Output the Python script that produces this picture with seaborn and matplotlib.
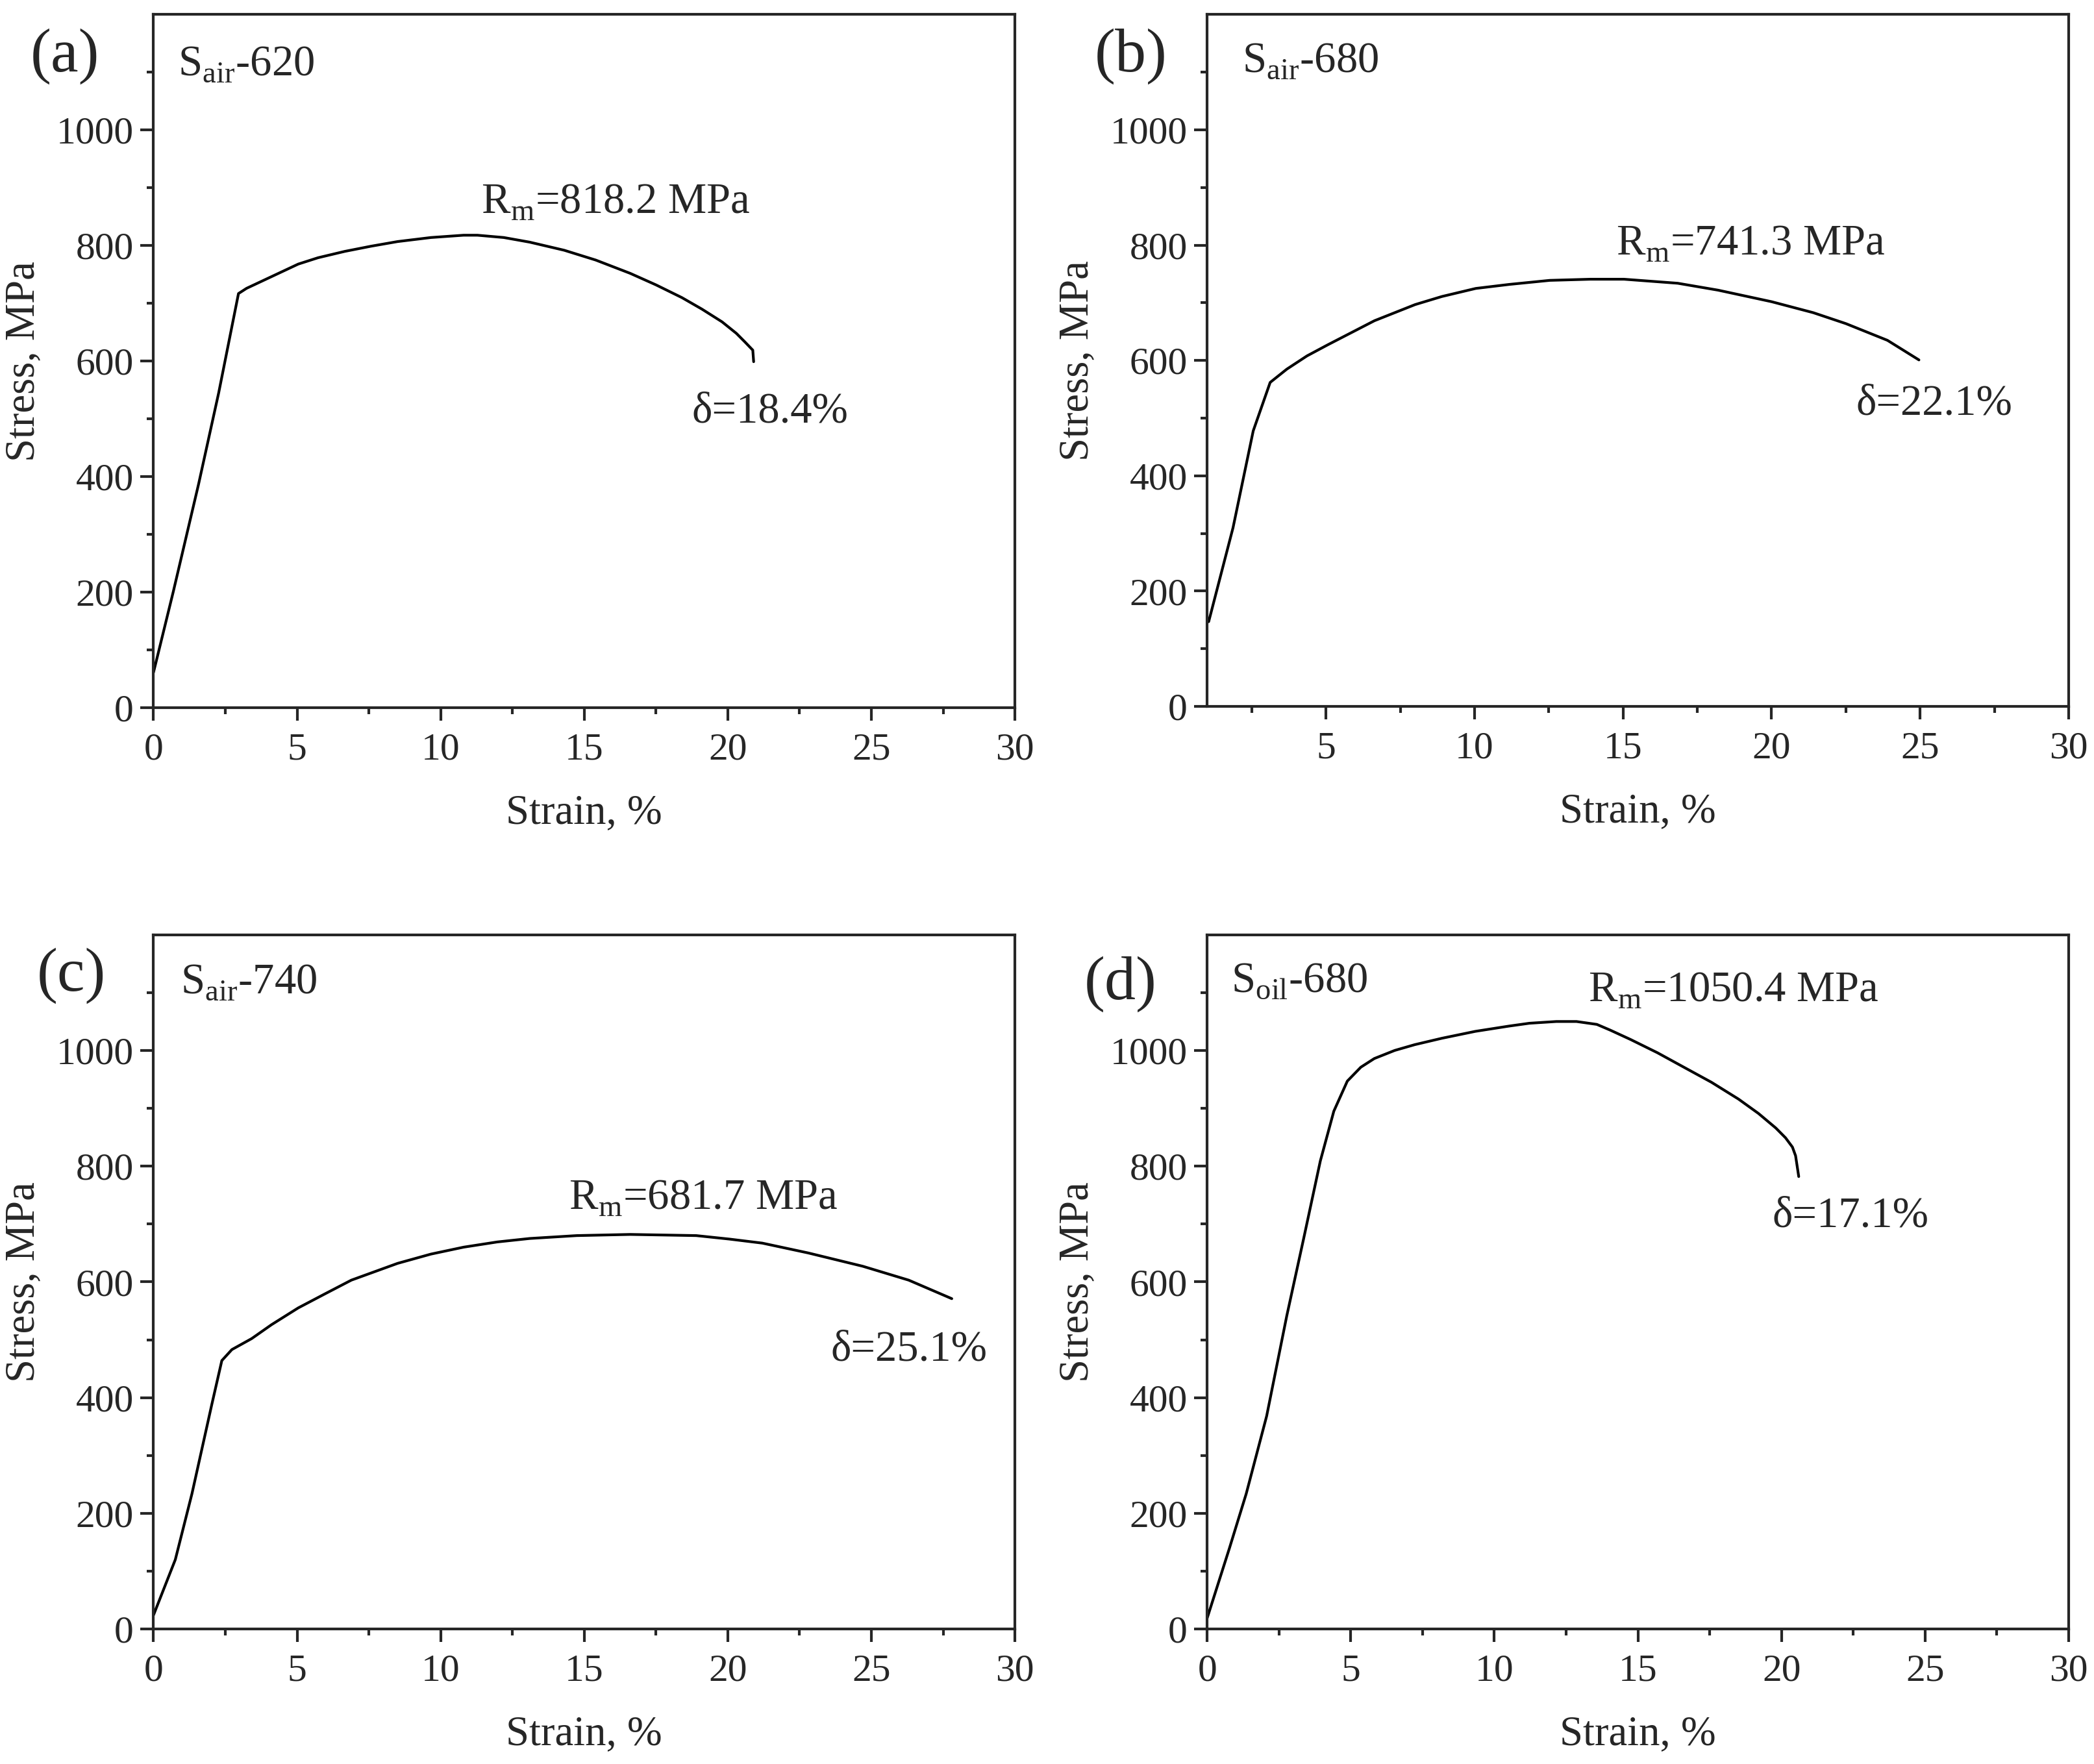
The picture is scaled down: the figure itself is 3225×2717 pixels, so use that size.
import matplotlib
matplotlib.use("Agg")
import matplotlib.pyplot as plt
import seaborn as sns
import pandas as pd

# stress-strain curves, strain in %, stress in MPa
strain_a = [0, 0.69, 1.57, 2.27, 2.96, 3.24, 5.04, 5.73, 6.66, 7.58, 8.5, 9.66, 10.8, 11.28, 12.2, 13.1,
            14.3, 15.4, 16.6, 17.5, 18.4, 19.1, 19.8, 20.3, 20.6, 20.87, 20.9]
stress_a = [61, 201, 387, 545, 717, 726, 768, 779, 790, 799, 807, 814, 818, 818, 814, 806,
            792, 775, 752, 732, 710, 690, 668, 648, 633, 619, 599]

strain_b = [1.05, 1.87, 2.55, 3.12, 3.68, 4.36, 5.05, 6.63, 8.0, 8.9, 10.04, 11.17, 12.53, 13.9, 15.03,
            16.84, 18.2, 20.0, 21.4, 22.5, 23.9, 24.96]
stress_b = [147, 310, 478, 562, 585, 608, 627, 669, 697, 711, 725, 732, 739, 741, 741,
            734, 722, 702, 683, 664, 635, 601]

strain_c = [0, 0.76, 1.34, 2.03, 2.38, 2.73, 3.42, 4.11, 5.04, 5.96, 6.89, 8.5, 9.66, 10.8, 11.97, 13.1,
            14.74, 16.6, 18.9, 20.05, 21.2, 22.8, 24.7, 26.3, 27.8]
stress_c = [24, 120, 234, 388, 464, 483, 502, 526, 555, 579, 603, 632, 648, 660, 669, 675,
            680, 682, 680, 674, 667, 650, 627, 603, 571]

strain_d = [0, 0.77, 1.36, 2.07, 2.77, 3.36, 3.94, 4.41, 4.88, 5.35, 5.82, 6.53, 7.23, 8.17, 9.34, 10.5,
            11.22, 12.16, 12.86, 13.57, 14.04, 14.74, 15.68, 16.6, 17.56, 18.5, 19.2, 19.8, 20.14, 20.38,
            20.49, 20.6]
stress_d = [19, 139, 234, 368, 541, 675, 809, 895, 947, 971, 986, 1000, 1010, 1021, 1033, 1042,
            1047, 1050, 1050, 1045, 1035, 1019, 996, 971, 945, 916, 891, 866, 849, 833,
            818, 782]

letters = ["(a)", "(b)", "(c)", "(d)"]
samples = [r"S$_\mathregular{air}$-620", r"S$_\mathregular{air}$-680", r"S$_\mathregular{air}$-740", r"S$_\mathregular{oil}$-680"]
rm_text = [r"R$_\mathregular{m}$=818.2 MPa", r"R$_\mathregular{m}$=741.3 MPa",
           r"R$_\mathregular{m}$=681.7 MPa", r"R$_\mathregular{m}$=1050.4 MPa"]
delta_text = ["δ=18.4%", "δ=22.1%", "δ=25.1%", "δ=17.1%"]

sns.set_style("ticks")
plt.rcParams['font.family'] = ['Liberation Serif', 'DejaVu Serif']
plt.rcParams['mathtext.fontset'] = 'custom'
plt.rcParams['mathtext.rm'] = 'Liberation Serif'

fig = plt.figure(figsize=(10.75, 9.057), dpi=300)

# axes boxes [left, bottom, width, height]
boxes = [[0.0733, 0.5988, 0.4114, 0.3929],
         [0.5765, 0.5995, 0.4114, 0.3922],
         [0.0733, 0.0765, 0.4114, 0.3936],
         [0.5765, 0.0765, 0.4114, 0.3936]]
xmins = [0, 1, 0, 0]
curves = [(strain_a, stress_a), (strain_b, stress_b), (strain_c, stress_c), (strain_d, stress_d)]
# text anchor positions in data units (left edge, vertical centre)
sample_pos = [(0.84, 1114), (2.17, 1119), (0.93, 1117), (0.84, 1120)]
rm_pos = [(11.4, 874), (14.76, 802), (14.47, 744), (13.26, 1103)]
delta_pos = [(18.74, 513), (22.85, 525), (23.58, 483), (19.67, 714)]
letter_pos = [(0.031, 0.968), (0.540, 0.968), (0.034, 0.447), (0.535, 0.442)]

for i in range(4):
    ax = fig.add_axes(boxes[i])
    df = pd.DataFrame({"strain": curves[i][0], "stress": curves[i][1]})
    sns.lineplot(data=df, x="strain", y="stress", ax=ax, sort=False, color="black", linewidth=1.0)
    ax.set_xlim(xmins[i], 30)
    ax.set_ylim(0, 1200)
    ax.set_xticks([0, 5, 10, 15, 20, 25, 30] if xmins[i] == 0 else [5, 10, 15, 20, 25, 30])
    ax.set_xticks([2.5, 7.5, 12.5, 17.5, 22.5, 27.5], minor=True)
    ax.set_yticks([0, 200, 400, 600, 800, 1000])
    ax.set_yticks([100, 300, 500, 700, 900, 1100], minor=True)
    ax.tick_params(which="major", direction="out", length=4.8, width=1.0, labelsize=14.3)
    ax.tick_params(which="minor", direction="out", length=2.4, width=1.0)
    ax.tick_params(axis="x", which="major", pad=4.5)
    ax.tick_params(axis="y", which="major", pad=2.5)
    for s in ax.spines.values():
        s.set_linewidth(1.0)
        s.set_visible(True)
    ax.set_xlabel("Strain, %", fontsize=15.5, labelpad=9.5)
    ax.set_ylabel("Stress, MPa", fontsize=15.5, labelpad=5)
    ax.text(sample_pos[i][0], sample_pos[i][1], samples[i], fontsize=16, va="center", ha="left")
    ax.text(rm_pos[i][0], rm_pos[i][1], rm_text[i], fontsize=16, va="center", ha="left")
    ax.text(delta_pos[i][0], delta_pos[i][1], delta_text[i], fontsize=16, va="center", ha="left")
    fig.text(letter_pos[i][0], letter_pos[i][1], letters[i], fontsize=23, va="center", ha="center")

fig.savefig("out.png", dpi=300, facecolor="white")
